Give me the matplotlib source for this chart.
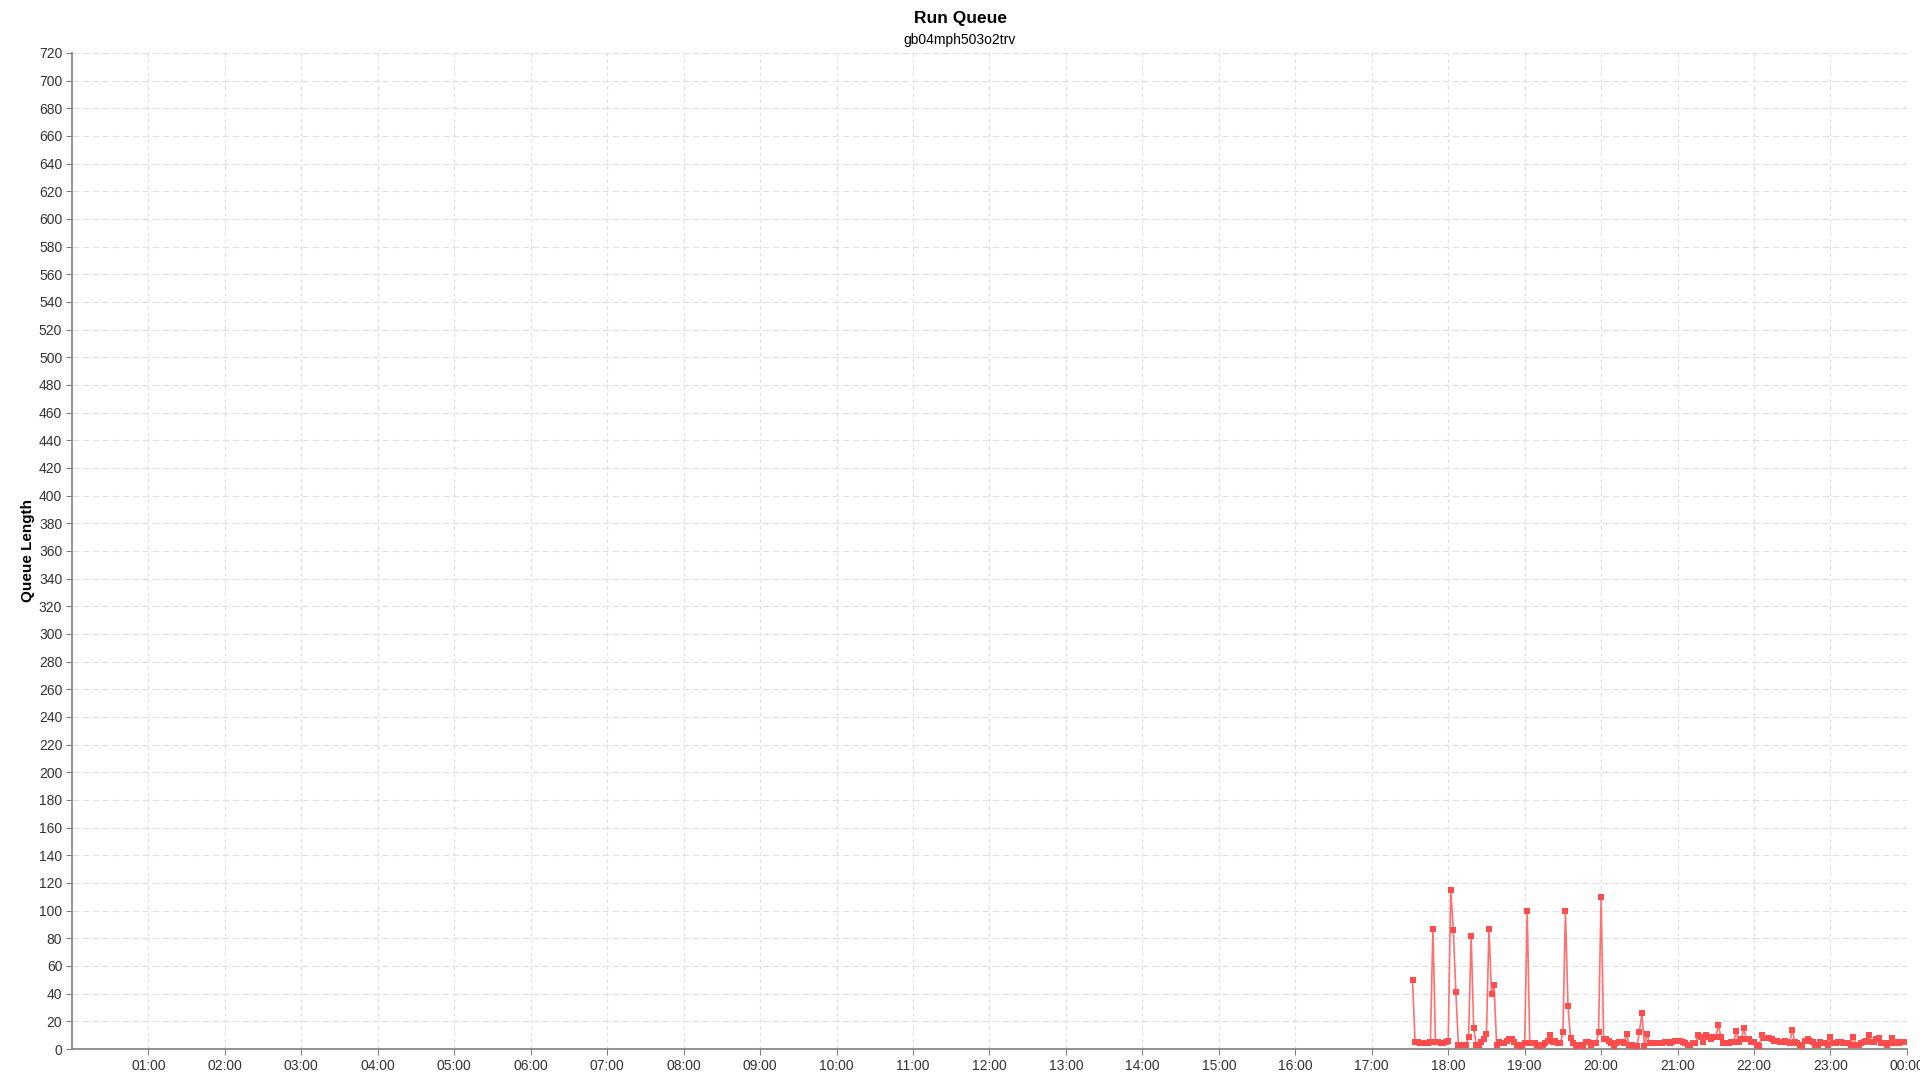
import matplotlib
matplotlib.use("Agg")
import matplotlib.pyplot as plt
import numpy as np

plt.rcParams['font.family'] = ['Liberation Sans', 'DejaVu Sans']

title = "Run Queue"
subtitle = "gb04mph503o2trv"
y_label = "Queue Length"

start_minute = 17 * 60 + 32     # first sample 17:32
step_minutes = 2                # one sample every 2 minutes

# queue length per sample, grouped by hour
q_17 = [50, 5, 5, 4, 4, 4, 4, 5, 87, 5, 5, 4, 4, 5]
q_18 = [6, 115, 86, 41, 3, 3, 3, 3, 9, 82, 15, 3, 3, 5, 7,
        11, 87, 40, 46, 3, 5, 4, 4, 6, 7, 7, 5, 3, 2, 3]
q_19 = [4, 100, 4, 4, 4, 3, 2, 3, 4, 6, 10, 5, 6, 4, 4,
        12, 100, 31, 8, 4, 2, 3, 3, 2, 5, 5, 3, 4, 4, 12]
q_20 = [110, 7, 7, 6, 4, 2, 4, 5, 5, 4, 11, 3, 3, 2, 2,
        12, 26, 2, 11, 4, 4, 4, 4, 4, 4, 5, 5, 4, 5, 6]
q_21 = [6, 6, 5, 4, 3, 3, 4, 4, 10, 9, 5, 10, 9, 7, 9,
        9, 17, 9, 4, 4, 4, 5, 5, 13, 5, 7, 15, 7, 7, 5]
q_22 = [5, 3, 2, 10, 8, 8, 8, 7, 6, 6, 5, 5, 6, 5, 4,
        14, 5, 4, 3, 2, 6, 7, 6, 5, 3, 3, 5, 4, 4, 3]
q_23 = [9, 4, 4, 5, 5, 4, 4, 4, 3, 9, 3, 3, 4, 5, 6,
        10, 5, 5, 7, 8, 4, 4, 3, 4, 8, 4, 5, 4, 5, 5]

queue = np.array(q_17 + q_18 + q_19 + q_20 + q_21 + q_22 + q_23)
hours = (start_minute + step_minutes * np.arange(len(queue))) / 60.0

hour_ticks = list(range(1, 25))
hour_labels = ["%02d:00" % (h % 24) for h in hour_ticks]

fig = plt.figure(figsize=(19.2, 10.8), dpi=100)
ax = fig.add_axes([0.0375, 0.0287, 0.9557, 0.9223])

ax.plot(hours, queue, "-", color="#ff7070", linewidth=1.2, zorder=3)
ax.plot(hours, queue, "s", color="#ff4d4d", markersize=4.2, markeredgewidth=0, zorder=4)

ax.set_xlim(0, 24)
ax.set_ylim(0, 720)
ax.set_xticks(hour_ticks)
ax.set_xticklabels(hour_labels)
ax.set_yticks(np.arange(0, 721, 20))

# horizontal grid: longer dashes, vertical grid: short dashes
ax.yaxis.grid(True, color="#e0e0e0", linestyle=(0, (6, 3)), linewidth=0.8)
ax.xaxis.grid(True, color="#e0e0e0", linestyle=(0, (3, 3)), linewidth=0.8)
ax.set_axisbelow(True)
for side in ("top", "right"):
    ax.spines[side].set_visible(False)
for side in ("left", "bottom"):
    ax.spines[side].set_color("#808080")
    ax.spines[side].set_linewidth(1.2)
ax.tick_params(axis="both", direction="out", length=4, color="#808080",
               labelsize=10, labelcolor="#333333", pad=3)

ax.set_ylabel(y_label, fontsize=11, fontweight="bold", labelpad=3)

fig.text(0.5, 0.983, title, ha="center", va="center", fontsize=12.5, fontweight="bold")
fig.text(0.5, 0.963, subtitle, ha="center", va="center", fontsize=10)

fig.savefig("out.png", dpi=100, facecolor="white")
